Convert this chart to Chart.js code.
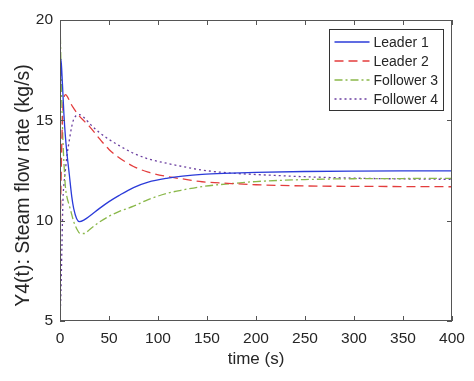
<!DOCTYPE html>
<html><head><meta charset="utf-8">
<script src="https://cdn.jsdelivr.net/npm/chart.js@4.4.1/dist/chart.umd.min.js"></script>
<style>html,body{margin:0;padding:0;background:#fff;}#wrap{width:474px;height:381px;}</style>
</head><body><div id="wrap"><canvas id="c" width="474" height="381"></canvas></div>
<script>
const time      = [0, 1, 2, 3, 4, 5.5, 7, 9.5, 12, 14, 17, 20, 25, 30, 40, 50, 60, 75, 90, 110, 125, 145, 175, 200, 250, 300, 350, 400];
const leader1   = [15, 18.05, 17.3, 16.3, 15.3, 14.2, 13.4, 12.3, 11.2, 10.6, 10.1, 9.95, 10.05, 10.22, 10.6, 10.95, 11.25, 11.65, 11.92, 12.12, 12.22, 12.31, 12.37, 12.41, 12.45, 12.47, 12.48, 12.48];
const leader2   = [8.5, 11.8, 14.2, 15.6, 16.1, 16.28, 16.22, 16.0, 15.75, 15.6, 15.38, 15.2, 14.95, 14.7, 14.1, 13.55, 13.15, 12.7, 12.42, 12.19, 12.08, 11.94, 11.85, 11.79, 11.73, 11.71, 11.7, 11.69];
const follower3 = [20, 17.8, 15.6, 14.0, 12.9, 11.7, 11.2, 10.75, 10.3, 9.95, 9.6, 9.38, 9.36, 9.55, 9.92, 10.22, 10.45, 10.72, 11.05, 11.37, 11.53, 11.7, 11.85, 11.95, 12.05, 12.09, 12.1, 12.11];
const follower4 = [5, 6.5, 8.8, 11.0, 11.8, 12.5, 13.2, 14.0, 14.7, 15.05, 15.25, 15.28, 15.12, 14.85, 14.4, 14.05, 13.75, 13.36, 13.08, 12.85, 12.7, 12.52, 12.37, 12.3, 12.19, 12.12, 12.08, 12.06];
const seriesLabels = ['Leader 1', 'Leader 2', 'Follower 3', 'Follower 4'];
const xTickValues = [0, 50, 100, 150, 200, 250, 300, 350, 400];
const yTickValues = [5, 10, 15, 20];
const xTitle = 'time (s)';
const yTitle = 'Y4(t): Steam flow rate (kg/s)';

const FONT = '"Liberation Sans", Arial, Helvetica, sans-serif';
const TXT = '#262626';

function pts(vals) { return time.map((t, i) => ({ x: t, y: vals[i] })); }

const styles = [
  { color: '#2b3bd9', dash: [] },
  { color: '#e33d3d', dash: [9, 5] },
  { color: '#8ab84a', dash: [8, 3, 2, 3] },
  { color: '#6b3fa0', dash: [2, 3] }
];
const seriesVals = [leader1, leader2, follower3, follower4];

const datasets = seriesVals.map((v, i) => ({
  label: seriesLabels[i],
  data: pts(v),
  borderColor: styles[i].color,
  backgroundColor: styles[i].color,
  borderDash: styles[i].dash,
  borderWidth: 1.3,
  pointRadius: 0,
  fill: false,
  cubicInterpolationMode: 'monotone'
}));

const framePlugin = {
  id: 'frame',
  afterDatasetsDraw(chart) {
    const { ctx, chartArea: { left, right, top, bottom }, scales: { x, y } } = chart;
    ctx.save();
    ctx.strokeStyle = '#555';
    ctx.lineWidth = 1;
    ctx.setLineDash([]);
    ctx.strokeRect(left + 0.5, top + 0.5, right - left - 1, bottom - top - 1);
    const L = 5;
    ctx.beginPath();
    x.ticks.forEach(t => {
      const px = Math.round(x.getPixelForValue(t.value)) + 0.5;
      ctx.moveTo(px, bottom); ctx.lineTo(px, bottom - L);
      ctx.moveTo(px, top); ctx.lineTo(px, top + L);
    });
    y.ticks.forEach(t => {
      const py = Math.round(y.getPixelForValue(t.value)) + 0.5;
      ctx.moveTo(left, py); ctx.lineTo(left + L, py);
      ctx.moveTo(right, py); ctx.lineTo(right - L, py);
    });
    ctx.stroke();
    ctx.restore();
  }
};

const yTitlePlugin = {
  id: 'yTitle',
  afterDraw(chart) {
    const { ctx, chartArea } = chart;
    ctx.save();
    ctx.font = '19.5px ' + FONT;
    ctx.fillStyle = TXT;
    ctx.textAlign = 'center';
    ctx.textBaseline = 'middle';
    ctx.translate(24, (chartArea.top + chartArea.bottom) / 2 + 15);
    ctx.rotate(-Math.PI / 2);
    ctx.fillText(yTitle, 0, 0);
    ctx.restore();
  }
};

const legendPlugin = {
  id: 'boxLegend',
  afterDraw(chart) {
    const { ctx, chartArea } = chart;
    ctx.save();
    ctx.font = '14px ' + FONT;
    const ds = chart.data.datasets;
    const sample = 35, gap = 4, padL = 5, padR = 5, rowH = 19.3;
    const textW = Math.max(...ds.map(d => ctx.measureText(d.label).width));
    const w = Math.round(padL + sample + gap + textW + padR);
    const h = 81;
    const x0 = Math.round(chartArea.right - 9 - w) + 0.5, y0 = chartArea.top + 9 + 0.5;
    ctx.fillStyle = '#fff';
    ctx.fillRect(x0, y0, w, h);
    ctx.strokeStyle = '#333';
    ctx.lineWidth = 1;
    ctx.setLineDash([]);
    ctx.strokeRect(x0, y0, w, h);
    ds.forEach((d, i) => {
      const cy = Math.round(y0 + 12 + i * rowH);
      ctx.beginPath();
      ctx.strokeStyle = d.borderColor;
      ctx.lineWidth = d.borderWidth;
      ctx.setLineDash(d.borderDash);
      ctx.moveTo(x0 + padL, cy);
      ctx.lineTo(x0 + padL + sample, cy);
      ctx.stroke();
      ctx.setLineDash([]);
      ctx.fillStyle = TXT;
      ctx.textBaseline = 'middle';
      ctx.textAlign = 'left';
      ctx.fillText(d.label, x0 + padL + sample + gap, cy + 1);
    });
    ctx.restore();
  }
};

new Chart(document.getElementById('c'), {
  type: 'line',
  data: { datasets },
  plugins: [framePlugin, yTitlePlugin, legendPlugin],
  options: {
    responsive: false,
    animation: false,
    devicePixelRatio: 1,
    layout: { padding: { top: 20, right: 22, left: 0, bottom: 0 } },
    plugins: { legend: { display: false }, tooltip: { enabled: false } },
    scales: {
      x: {
        type: 'linear', min: 0, max: 400,
        afterBuildTicks: s => { s.ticks = xTickValues.map(v => ({ value: v })); },
        afterFit: s => { s.height = 60; },
        grid: { display: false, drawTicks: false },
        border: { display: false },
        ticks: { color: TXT, font: { family: FONT, size: 15.5 }, padding: 8, maxRotation: 0 },
        title: { display: true, text: xTitle, color: TXT, font: { family: FONT, size: 17 }, padding: { top: 0, bottom: 11 } }
      },
      y: {
        type: 'linear', min: 5, max: 20,
        afterBuildTicks: s => { s.ticks = yTickValues.map(v => ({ value: v })); },
        afterFit: s => { s.width = 60; },
        grid: { display: false, drawTicks: false },
        border: { display: false },
        ticks: { color: TXT, font: { family: FONT, size: 15.5 }, padding: 7 }
      }
    }
  }
});
</script></body></html>
